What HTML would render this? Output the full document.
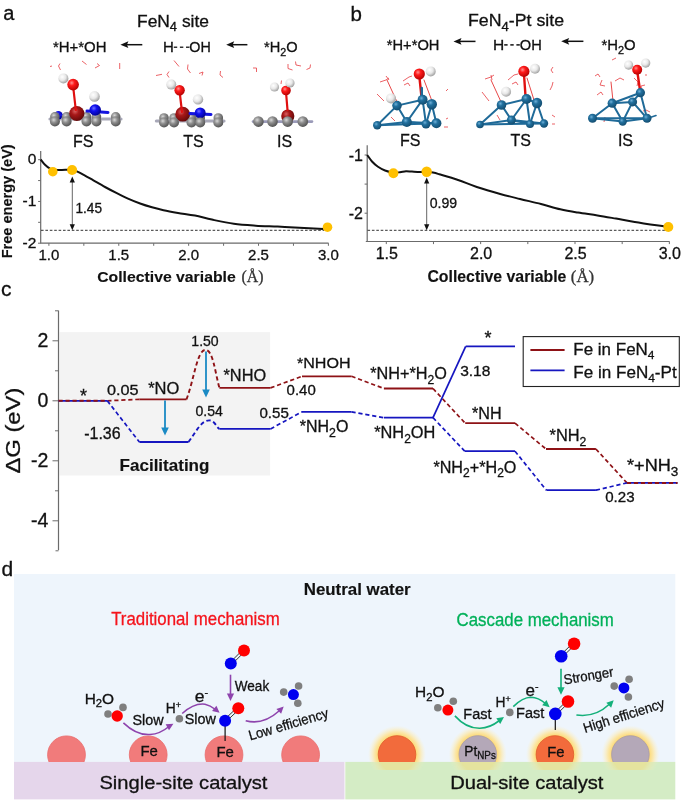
<!DOCTYPE html>
<html><head><meta charset="utf-8"><title>Figure</title>
<style>html,body{margin:0;padding:0;background:#fff;}svg{display:block;}</style>
</head><body>
<svg width="685" height="803" viewBox="0 0 685 803" font-family="'Liberation Sans', Arial, Helvetica, sans-serif">
<rect width="685" height="803" fill="#fff"/>
<!-- panel a -->
<text x="3.2" y="20" font-size="20" fill="#111" stroke="#111" stroke-width="0.3">a</text>
<text x="137" y="26.5" font-size="16.2" textLength="72" lengthAdjust="spacingAndGlyphs" fill="#111" stroke="#111" stroke-width="0.3">FeN<tspan font-size="12" dy="4.8">4</tspan><tspan dy="-4.8"> site</tspan></text>
<text x="52.9" y="52.4" font-size="15" textLength="53.6" lengthAdjust="spacingAndGlyphs" fill="#111" stroke="#111" stroke-width="0.3">*H+*OH</text>
<text x="163" y="52.4" font-size="15" fill="#111" stroke="#111" stroke-width="0.3">H</text>
<text x="189.3" y="52.4" font-size="15" textLength="21.5" lengthAdjust="spacingAndGlyphs" fill="#111" stroke="#111" stroke-width="0.3">OH</text>
<line x1="173.8" y1="47.2" x2="189.5" y2="47.2" stroke="#333" stroke-width="1.6" stroke-dasharray="3.4 2.7"/>
<text x="264" y="52.4" font-size="15" textLength="33.6" lengthAdjust="spacingAndGlyphs" fill="#111" stroke="#111" stroke-width="0.3">*H<tspan font-size="11" dy="3.6">2</tspan><tspan dy="-3.6">O</tspan></text>
<line x1="124.4" y1="44.7" x2="142.3" y2="44.7" stroke="#111" stroke-width="1.5"/>
<path d="M120.4,44.7 L128.4,41.300000000000004 L126.9,44.7 L128.4,48.1 Z" fill="#111"/>
<line x1="230.2" y1="44.7" x2="247.4" y2="44.7" stroke="#111" stroke-width="1.5"/>
<path d="M226.2,44.7 L234.2,41.300000000000004 L232.7,44.7 L234.2,48.1 Z" fill="#111"/>
<text x="73" y="146.5" font-size="16" fill="#111" stroke="#111" stroke-width="0.3">FS</text>
<text x="183.3" y="146.5" font-size="16" fill="#111" stroke="#111" stroke-width="0.3">TS</text>
<text x="277" y="146.5" font-size="16" fill="#111" stroke="#111" stroke-width="0.3">IS</text>
<text x="350.5" y="20.5" font-size="20.5" fill="#111" stroke="#111" stroke-width="0.3">b</text>
<text x="468" y="26.2" font-size="16.2" textLength="96" lengthAdjust="spacingAndGlyphs" fill="#111" stroke="#111" stroke-width="0.3">FeN<tspan font-size="12" dy="4.8">4</tspan><tspan dy="-4.8">-Pt site</tspan></text>
<text x="386.8" y="50.3" font-size="15" textLength="52.6" lengthAdjust="spacingAndGlyphs" fill="#111" stroke="#111" stroke-width="0.3">*H+*OH</text>
<text x="493" y="50.2" font-size="15.5" fill="#111" stroke="#111" stroke-width="0.3">H</text>
<text x="519.8" y="50.2" font-size="15.5" textLength="22" lengthAdjust="spacingAndGlyphs" fill="#111" stroke="#111" stroke-width="0.3">OH</text>
<line x1="504.2" y1="44.9" x2="520" y2="44.9" stroke="#333" stroke-width="1.6" stroke-dasharray="3.4 2.7"/>
<text x="601.4" y="50.2" font-size="15" textLength="34.2" lengthAdjust="spacingAndGlyphs" fill="#111" stroke="#111" stroke-width="0.3">*H<tspan font-size="11" dy="3.6">2</tspan><tspan dy="-3.6">O</tspan></text>
<line x1="457.5" y1="41.4" x2="475.5" y2="41.4" stroke="#111" stroke-width="1.5"/>
<path d="M453.5,41.4 L461.5,38.0 L460.0,41.4 L461.5,44.8 Z" fill="#111"/>
<line x1="565.2" y1="41.3" x2="583.4" y2="41.3" stroke="#111" stroke-width="1.5"/>
<path d="M561.2,41.3 L569.2,37.9 L567.7,41.3 L569.2,44.699999999999996 Z" fill="#111"/>
<text x="400" y="146.4" font-size="16" fill="#111" stroke="#111" stroke-width="0.3">FS</text>
<text x="510.6" y="146.4" font-size="16" fill="#111" stroke="#111" stroke-width="0.3">TS</text>
<text x="617.9" y="146.4" font-size="16" fill="#111" stroke="#111" stroke-width="0.3">IS</text>
<path d="M40.7,151 L40.7,243.2 L328.6,243.2" fill="none" stroke="#6b6b6b" stroke-width="1.2"/>
<line x1="38.1" y1="159.7" x2="40.7" y2="159.7" stroke="#6b6b6b" stroke-width="1"/>
<line x1="38.1" y1="201.45" x2="40.7" y2="201.45" stroke="#6b6b6b" stroke-width="1"/>
<line x1="38.1" y1="180.575" x2="40.7" y2="180.575" stroke="#6b6b6b" stroke-width="1"/>
<line x1="38.1" y1="222.325" x2="40.7" y2="222.325" stroke="#6b6b6b" stroke-width="1"/>
<line x1="48.9" y1="243.2" x2="48.9" y2="245.79999999999998" stroke="#6b6b6b" stroke-width="1"/>
<line x1="118.775" y1="243.2" x2="118.775" y2="245.79999999999998" stroke="#6b6b6b" stroke-width="1"/>
<line x1="188.65" y1="243.2" x2="188.65" y2="245.79999999999998" stroke="#6b6b6b" stroke-width="1"/>
<line x1="258.525" y1="243.2" x2="258.525" y2="245.79999999999998" stroke="#6b6b6b" stroke-width="1"/>
<line x1="328.4" y1="243.2" x2="328.4" y2="245.79999999999998" stroke="#6b6b6b" stroke-width="1"/>
<line x1="83.8375" y1="243.2" x2="83.8375" y2="245.79999999999998" stroke="#6b6b6b" stroke-width="1"/>
<line x1="153.7125" y1="243.2" x2="153.7125" y2="245.79999999999998" stroke="#6b6b6b" stroke-width="1"/>
<line x1="223.5875" y1="243.2" x2="223.5875" y2="245.79999999999998" stroke="#6b6b6b" stroke-width="1"/>
<line x1="293.4625" y1="243.2" x2="293.4625" y2="245.79999999999998" stroke="#6b6b6b" stroke-width="1"/>
<line x1="38" y1="243.2" x2="40.7" y2="243.2" stroke="#6b6b6b" stroke-width="1"/>
<text x="36.4" y="164.0" font-size="15.5" text-anchor="end" fill="#111" stroke="#111" stroke-width="0.3">0</text>
<text x="36.4" y="205.75" font-size="15.5" text-anchor="end" fill="#111" stroke="#111" stroke-width="0.3">-1</text>
<text x="36.4" y="247.5" font-size="15.5" text-anchor="end" fill="#111" stroke="#111" stroke-width="0.3">-2</text>
<text x="48.9" y="259.6" font-size="15" text-anchor="middle" fill="#111" stroke="#111" stroke-width="0.3">1.0</text>
<text x="118.775" y="259.6" font-size="15" text-anchor="middle" fill="#111" stroke="#111" stroke-width="0.3">1.5</text>
<text x="188.65" y="259.6" font-size="15" text-anchor="middle" fill="#111" stroke="#111" stroke-width="0.3">2.0</text>
<text x="258.525" y="259.6" font-size="15" text-anchor="middle" fill="#111" stroke="#111" stroke-width="0.3">2.5</text>
<text x="328.4" y="259.6" font-size="15" text-anchor="middle" fill="#111" stroke="#111" stroke-width="0.3">3.0</text>
<text x="0" y="0" font-size="14.6" font-weight="bold" fill="#111" stroke="#111" stroke-width="0.15" transform="translate(12.3,258.3) rotate(-90)" textLength="114" lengthAdjust="spacingAndGlyphs">Free energy (eV)</text>
<text x="97.2" y="281.6" font-size="15.5" font-weight="bold" textLength="138.5" lengthAdjust="spacingAndGlyphs" fill="#111" stroke="#111" stroke-width="0.15">Collective variable</text>
<text x="241.6" y="281.6" font-size="16" textLength="22" lengthAdjust="spacingAndGlyphs" font-family="'Liberation Serif', serif" fill="#333" stroke="#333" stroke-width="0.3">(Å)</text>
<line x1="41" y1="230.3" x2="324" y2="230.3" stroke="#333" stroke-width="1" stroke-dasharray="2.6 1.8"/>
<path d="M40.7,159.5 C41.42,160.38 43.45,163.28 45.00,164.80 C46.55,166.32 48.17,167.73 50.00,168.60 C51.83,169.47 54.00,169.77 56.00,170.00 C58.00,170.23 60.00,170.05 62.00,170.00 C64.00,169.95 66.33,169.75 68.00,169.70 C69.67,169.65 70.43,169.38 72.00,169.70 C73.57,170.02 75.23,170.62 77.40,171.60 C79.57,172.58 82.33,174.13 85.00,175.60 C87.67,177.07 90.07,178.50 93.40,180.40 C96.73,182.30 101.10,184.87 105.00,187.00 C108.90,189.13 112.97,191.27 116.80,193.20 C120.63,195.13 124.12,196.88 128.00,198.60 C131.88,200.32 136.10,202.05 140.10,203.50 C144.10,204.95 148.10,206.18 152.00,207.30 C155.90,208.42 159.17,209.27 163.50,210.20 C167.83,211.13 172.75,212.00 178.00,212.90 C183.25,213.80 189.35,214.48 195.00,215.60 C200.65,216.72 205.43,218.23 211.90,219.60 C218.37,220.97 226.50,222.78 233.80,223.80 C241.10,224.82 248.40,225.23 255.70,225.70 C263.00,226.17 270.30,226.27 277.60,226.60 C284.90,226.93 291.83,227.30 299.50,227.70 C307.17,228.10 319.58,228.78 323.60,229.00" fill="none" stroke="#111" stroke-width="2"/>
<line x1="72.3" y1="180.5" x2="72.3" y2="226.3" stroke="#555" stroke-width="0.9"/>
<path d="M72.3,176.5 L69.7,182.5 L74.89999999999999,182.5 Z" fill="#111"/>
<path d="M72.3,230.3 L69.7,224.3 L74.89999999999999,224.3 Z" fill="#111"/>
<text x="75.4" y="212.6" font-size="14.6" textLength="26.6" lengthAdjust="spacingAndGlyphs" fill="#111" stroke="#111" stroke-width="0.3">1.45</text>
<circle cx="52.8" cy="171.7" r="4.8" fill="#ffc000"/>
<circle cx="72.1" cy="170" r="5" fill="#ffc000"/>
<circle cx="327.5" cy="227.2" r="4.8" fill="#ffc000"/>
<path d="M367.2,145.2 L367.2,241.5 L669.6,241.5" fill="none" stroke="#6b6b6b" stroke-width="1.2"/>
<line x1="364.59999999999997" y1="155.0" x2="367.2" y2="155.0" stroke="#6b6b6b" stroke-width="1"/>
<line x1="364.59999999999997" y1="213.2" x2="367.2" y2="213.2" stroke="#6b6b6b" stroke-width="1"/>
<line x1="364.59999999999997" y1="184.1" x2="367.2" y2="184.1" stroke="#6b6b6b" stroke-width="1"/>
<line x1="386.3" y1="241.5" x2="386.3" y2="244.1" stroke="#6b6b6b" stroke-width="1"/>
<line x1="480.65" y1="241.5" x2="480.65" y2="244.1" stroke="#6b6b6b" stroke-width="1"/>
<line x1="575.0" y1="241.5" x2="575.0" y2="244.1" stroke="#6b6b6b" stroke-width="1"/>
<line x1="669.3499999999999" y1="241.5" x2="669.3499999999999" y2="244.1" stroke="#6b6b6b" stroke-width="1"/>
<line x1="433.475" y1="241.5" x2="433.475" y2="244.1" stroke="#6b6b6b" stroke-width="1"/>
<line x1="527.825" y1="241.5" x2="527.825" y2="244.1" stroke="#6b6b6b" stroke-width="1"/>
<line x1="622.175" y1="241.5" x2="622.175" y2="244.1" stroke="#6b6b6b" stroke-width="1"/>
<line x1="365.8" y1="241.5" x2="367.2" y2="241.5" stroke="#6b6b6b" stroke-width="1"/>
<text x="363" y="160.6" font-size="16" text-anchor="end" fill="#111" stroke="#111" stroke-width="0.3">-1</text>
<text x="363" y="218.79999999999998" font-size="16" text-anchor="end" fill="#111" stroke="#111" stroke-width="0.3">-2</text>
<text x="386.8" y="258.8" font-size="16" text-anchor="middle" fill="#111" stroke="#111" stroke-width="0.3">1.5</text>
<text x="481.15" y="258.8" font-size="16" text-anchor="middle" fill="#111" stroke="#111" stroke-width="0.3">2.0</text>
<text x="575.5" y="258.8" font-size="16" text-anchor="middle" fill="#111" stroke="#111" stroke-width="0.3">2.5</text>
<text x="669.8499999999999" y="258.8" font-size="16" text-anchor="middle" fill="#111" stroke="#111" stroke-width="0.3">3.0</text>
<text x="427.4" y="281.8" font-size="15.7" font-weight="bold" textLength="139" lengthAdjust="spacingAndGlyphs" fill="#111" stroke="#111" stroke-width="0.15">Collective variable</text>
<text x="570.8" y="281.8" font-size="16" textLength="23.3" lengthAdjust="spacingAndGlyphs" font-family="'Liberation Serif', serif" fill="#333" stroke="#333" stroke-width="0.3">(Å)</text>
<line x1="367.5" y1="230.3" x2="665" y2="230.3" stroke="#333" stroke-width="1" stroke-dasharray="2.6 1.8"/>
<path d="M367.2,155 C368.00,156.08 370.20,159.53 372.00,161.50 C373.80,163.47 375.83,165.30 378.00,166.80 C380.17,168.30 382.43,169.53 385.00,170.50 C387.57,171.47 390.90,172.32 393.40,172.60 C395.90,172.88 397.90,172.43 400.00,172.20 C402.10,171.97 404.00,171.30 406.00,171.20 C408.00,171.10 409.67,171.47 412.00,171.60 C414.33,171.73 417.55,171.98 420.00,172.00 C422.45,172.02 424.53,171.60 426.70,171.70 C428.87,171.80 430.88,172.17 433.00,172.60 C435.12,173.03 435.22,173.07 439.40,174.30 C443.58,175.53 451.87,177.88 458.10,180.00 C464.33,182.12 469.78,184.67 476.80,187.00 C483.82,189.33 493.00,192.00 500.20,194.00 C507.40,196.00 513.20,197.33 520.00,199.00 C526.80,200.67 534.28,202.28 541.00,204.00 C547.72,205.72 554.13,207.87 560.30,209.30 C566.47,210.73 571.80,211.58 578.00,212.60 C584.20,213.62 591.17,214.40 597.50,215.40 C603.83,216.40 609.78,217.50 616.00,218.60 C622.22,219.70 626.72,220.68 634.80,222.00 C642.88,223.32 659.55,225.75 664.50,226.50" fill="none" stroke="#111" stroke-width="2"/>
<line x1="426.7" y1="181.5" x2="426.7" y2="226.3" stroke="#555" stroke-width="0.9"/>
<path d="M426.7,177.5 L424.09999999999997,183.5 L429.3,183.5 Z" fill="#111"/>
<path d="M426.7,230.3 L424.09999999999997,224.3 L429.3,224.3 Z" fill="#111"/>
<text x="429.8" y="208.4" font-size="15" textLength="27.4" lengthAdjust="spacingAndGlyphs" fill="#111" stroke="#111" stroke-width="0.3">0.99</text>
<circle cx="393.4" cy="173.2" r="5" fill="#ffc000"/>
<circle cx="426.7" cy="171.7" r="5.2" fill="#ffc000"/>
<circle cx="668.3" cy="227" r="5" fill="#ffc000"/>
<!-- panel c -->
<text x="1" y="296.3" font-size="21" fill="#111" stroke="#111" stroke-width="0.3">c</text>
<rect x="59.5" y="332.1" width="210.6" height="143.4" fill="#f3f3f3"/>
<line x1="58.5" y1="310.6" x2="58.5" y2="550.2" stroke="#6b6b6b" stroke-width="1.2"/>
<line x1="55.0" y1="310.8" x2="58.5" y2="310.8" stroke="#6b6b6b" stroke-width="1"/>
<line x1="52.5" y1="340.8" x2="58.5" y2="340.8" stroke="#6b6b6b" stroke-width="1"/>
<line x1="55.0" y1="370.8" x2="58.5" y2="370.8" stroke="#6b6b6b" stroke-width="1"/>
<line x1="52.5" y1="400.8" x2="58.5" y2="400.8" stroke="#6b6b6b" stroke-width="1"/>
<line x1="55.0" y1="430.8" x2="58.5" y2="430.8" stroke="#6b6b6b" stroke-width="1"/>
<line x1="52.5" y1="460.8" x2="58.5" y2="460.8" stroke="#6b6b6b" stroke-width="1"/>
<line x1="55.0" y1="490.8" x2="58.5" y2="490.8" stroke="#6b6b6b" stroke-width="1"/>
<line x1="52.5" y1="520.8" x2="58.5" y2="520.8" stroke="#6b6b6b" stroke-width="1"/>
<line x1="55.5" y1="550.8" x2="58.5" y2="550.8" stroke="#6b6b6b" stroke-width="1"/>
<text x="48.4" y="346.5" font-size="19.5" text-anchor="end" fill="#111" stroke="#111" stroke-width="0.3">2</text>
<text x="48.4" y="406.5" font-size="19.5" text-anchor="end" fill="#111" stroke="#111" stroke-width="0.3">0</text>
<text x="48.4" y="466.5" font-size="19.5" text-anchor="end" fill="#111" stroke="#111" stroke-width="0.3">-2</text>
<text x="48.4" y="526.5" font-size="19.5" text-anchor="end" fill="#111" stroke="#111" stroke-width="0.3">-4</text>
<text x="0" y="0" font-size="21" fill="#111" stroke="#111" stroke-width="0.3" transform="translate(19.8,473.6) rotate(-90)" textLength="86" lengthAdjust="spacingAndGlyphs">ΔG (eV)</text>
<line x1="107.3" y1="400.8" x2="139.4" y2="399.3" stroke="#8e1216" stroke-width="1.7" stroke-dasharray="4.2 2.8"/>
<line x1="139.4" y1="399.3" x2="186.5" y2="399.3" stroke="#8e1216" stroke-width="1.8"/>
<path d="M186.5,399.3 C194,380 197,350 205.5,349.9 C213,350 215,372 219.4,387.9" fill="none" stroke="#8e1216" stroke-width="1.9" stroke-dasharray="4.2 2.8"/>
<line x1="219.4" y1="387.9" x2="270.5" y2="387.9" stroke="#8e1216" stroke-width="1.8"/>
<line x1="270.5" y1="387.9" x2="302" y2="376.3" stroke="#8e1216" stroke-width="1.7" stroke-dasharray="4.2 2.8"/>
<line x1="302" y1="376.3" x2="351.5" y2="376.3" stroke="#8e1216" stroke-width="1.8"/>
<line x1="351.5" y1="376.3" x2="383.9" y2="388.5" stroke="#8e1216" stroke-width="1.7" stroke-dasharray="4.2 2.8"/>
<line x1="383.9" y1="388.5" x2="433" y2="388.5" stroke="#8e1216" stroke-width="1.8"/>
<line x1="433" y1="388.5" x2="465.2" y2="423.2" stroke="#8e1216" stroke-width="1.7" stroke-dasharray="4.2 2.8"/>
<line x1="465.2" y1="423.2" x2="515" y2="423.2" stroke="#8e1216" stroke-width="1.8"/>
<line x1="515" y1="423.2" x2="546" y2="449" stroke="#8e1216" stroke-width="1.7" stroke-dasharray="4.2 2.8"/>
<line x1="546" y1="449" x2="595.9" y2="449" stroke="#8e1216" stroke-width="1.8"/>
<line x1="595.9" y1="449" x2="626.9" y2="482.9" stroke="#8e1216" stroke-width="1.7" stroke-dasharray="4.2 2.8"/>
<line x1="58.5" y1="400.8" x2="107.3" y2="400.8" stroke="#1616c0" stroke-width="1.8"/>
<line x1="58.5" y1="400.8" x2="107.3" y2="400.8" stroke="#8e1216" stroke-width="2" stroke-dasharray="4.2 2.8"/>
<line x1="107.3" y1="400.8" x2="139.4" y2="442" stroke="#1616c0" stroke-width="1.7" stroke-dasharray="4.2 2.8"/>
<line x1="139.4" y1="442" x2="188.5" y2="442" stroke="#1616c0" stroke-width="1.8"/>
<path d="M188.5,442 C196,432 201,420.4 209.2,420.4 C215,420.4 216,427 219.4,428.9" fill="none" stroke="#1616c0" stroke-width="1.9" stroke-dasharray="4.2 2.8"/>
<line x1="219.4" y1="428.9" x2="270.5" y2="428.9" stroke="#1616c0" stroke-width="1.8"/>
<line x1="270.5" y1="428.9" x2="302" y2="411.8" stroke="#1616c0" stroke-width="1.7" stroke-dasharray="4.2 2.8"/>
<line x1="302" y1="411.8" x2="351.5" y2="411.8" stroke="#1616c0" stroke-width="1.8"/>
<line x1="351.5" y1="411.8" x2="383.9" y2="417.7" stroke="#1616c0" stroke-width="1.7" stroke-dasharray="4.2 2.8"/>
<line x1="383.9" y1="417.7" x2="433" y2="417.7" stroke="#1616c0" stroke-width="1.8"/>
<line x1="433" y1="417.7" x2="465.7" y2="346.4" stroke="#1616c0" stroke-width="1.7"/>
<line x1="465.7" y1="346.4" x2="515" y2="346.4" stroke="#1616c0" stroke-width="1.8"/>
<line x1="433" y1="417.7" x2="464.7" y2="451.2" stroke="#1616c0" stroke-width="1.7" stroke-dasharray="4.2 2.8"/>
<line x1="464.7" y1="451.2" x2="515" y2="451.2" stroke="#1616c0" stroke-width="1.8"/>
<line x1="515" y1="451.2" x2="546.4" y2="490.2" stroke="#1616c0" stroke-width="1.7" stroke-dasharray="4.2 2.8"/>
<line x1="546.4" y1="490.2" x2="595.9" y2="490.2" stroke="#1616c0" stroke-width="1.8"/>
<line x1="595.9" y1="490.2" x2="626.9" y2="482.9" stroke="#1616c0" stroke-width="1.7" stroke-dasharray="4.2 2.8"/>
<line x1="626.9" y1="482.9" x2="677.5" y2="482.9" stroke="#1616c0" stroke-width="1.8"/>
<line x1="626.9" y1="482.9" x2="677.5" y2="482.9" stroke="#8e1216" stroke-width="2" stroke-dasharray="4.2 2.8"/>
<line x1="165" y1="400.5" x2="165" y2="429.5" stroke="#1a8ac4" stroke-width="1.8"/>
<path d="M165,435.5 L161.2,427.5 L168.8,427.5 Z" fill="#1a8ac4"/>
<line x1="206" y1="351.5" x2="206" y2="391.4" stroke="#1a8ac4" stroke-width="1.8"/>
<path d="M206,397.4 L202.2,389.4 L209.8,389.4 Z" fill="#1a8ac4"/>
<text x="80" y="402" font-size="18" fill="#111" stroke="#111" stroke-width="0.3">*</text>
<text x="107" y="395.2" font-size="14.8" textLength="31.6" lengthAdjust="spacingAndGlyphs" fill="#111" stroke="#111" stroke-width="0.3">0.05</text>
<text x="148.2" y="394" font-size="16.2" textLength="31.2" lengthAdjust="spacingAndGlyphs" fill="#111" stroke="#111" stroke-width="0.3">*NO</text>
<text x="191.3" y="346" font-size="14.6" textLength="27.4" lengthAdjust="spacingAndGlyphs" fill="#111" stroke="#111" stroke-width="0.3">1.50</text>
<text x="223.5" y="381.2" font-size="16" textLength="42.6" lengthAdjust="spacingAndGlyphs" fill="#111" stroke="#111" stroke-width="0.3">*NHO</text>
<text x="195.4" y="415.6" font-size="14.4" textLength="27.4" lengthAdjust="spacingAndGlyphs" fill="#111" stroke="#111" stroke-width="0.3">0.54</text>
<text x="84.2" y="438.7" font-size="16" textLength="36.4" lengthAdjust="spacingAndGlyphs" fill="#111" stroke="#111" stroke-width="0.3">-1.36</text>
<text x="119.6" y="470.8" font-size="16.4" font-weight="bold" textLength="89.8" lengthAdjust="spacingAndGlyphs" fill="#111" stroke="#111" stroke-width="0.15">Facilitating</text>
<text x="259.4" y="418" font-size="14.4" textLength="29.4" lengthAdjust="spacingAndGlyphs" fill="#111" stroke="#111" stroke-width="0.3">0.55</text>
<text x="297" y="367.8" font-size="15.2" textLength="53.6" lengthAdjust="spacingAndGlyphs" fill="#111" stroke="#111" stroke-width="0.3">*NHOH</text>
<text x="286.6" y="395.3" font-size="14.8" textLength="29.2" lengthAdjust="spacingAndGlyphs" fill="#111" stroke="#111" stroke-width="0.3">0.40</text>
<text x="299.8" y="431.9" font-size="15.6" textLength="48.6" lengthAdjust="spacingAndGlyphs" fill="#111" stroke="#111" stroke-width="0.3">*NH<tspan font-size="12" dy="4.6">2</tspan><tspan dy="-4.6">O</tspan></text>
<text x="370.2" y="379.2" font-size="16.8" textLength="76.6" lengthAdjust="spacingAndGlyphs" fill="#111" stroke="#111" stroke-width="0.3">*NH+*H<tspan font-size="12.5" dy="4.8">2</tspan><tspan dy="-4.8">O</tspan></text>
<text x="374.2" y="437.8" font-size="17" textLength="61.2" lengthAdjust="spacingAndGlyphs" fill="#111" stroke="#111" stroke-width="0.3">*NH<tspan font-size="12.5" dy="4.8">2</tspan><tspan dy="-4.8">OH</tspan></text>
<text x="460.2" y="376.4" font-size="14.4" textLength="30.2" lengthAdjust="spacingAndGlyphs" fill="#111" stroke="#111" stroke-width="0.3">3.18</text>
<text x="484.6" y="344.2" font-size="18" fill="#111" stroke="#111" stroke-width="0.3">*</text>
<text x="472" y="418.5" font-size="16.2" textLength="29.6" lengthAdjust="spacingAndGlyphs" fill="#111" stroke="#111" stroke-width="0.3">*NH</text>
<text x="549.6" y="440.7" font-size="16.8" textLength="36.8" lengthAdjust="spacingAndGlyphs" fill="#111" stroke="#111" stroke-width="0.3">*NH<tspan font-size="12.5" dy="4.8">2</tspan></text>
<text x="433.4" y="472.6" font-size="16.8" textLength="83" lengthAdjust="spacingAndGlyphs" fill="#111" stroke="#111" stroke-width="0.3">*NH<tspan font-size="12.5" dy="4.8">2</tspan><tspan dy="-4.8">+*H</tspan><tspan font-size="12.5" dy="4.8">2</tspan><tspan dy="-4.8">O</tspan></text>
<text x="627" y="470.8" font-size="16.8" textLength="51.4" lengthAdjust="spacingAndGlyphs" fill="#111" stroke="#111" stroke-width="0.3">*+NH<tspan font-size="12.5" dy="5.2">3</tspan></text>
<text x="605.2" y="502.1" font-size="15" textLength="29.4" lengthAdjust="spacingAndGlyphs" fill="#111" stroke="#111" stroke-width="0.3">0.23</text>
<rect x="523.2" y="336.6" width="156.1" height="49.9" fill="#fff" stroke="#222" stroke-width="1.1"/>
<line x1="530.4" y1="350" x2="564.6" y2="350" stroke="#8e1216" stroke-width="1.8"/>
<line x1="530.4" y1="370.4" x2="564.6" y2="370.4" stroke="#1616c0" stroke-width="1.8"/>
<text x="573.3" y="354.7" font-size="16.4" textLength="81.2" lengthAdjust="spacingAndGlyphs" fill="#111" stroke="#111" stroke-width="0.3">Fe in FeN<tspan font-size="11.5" dy="4.2">4</tspan></text>
<text x="573.3" y="378" font-size="16.4" textLength="103.4" lengthAdjust="spacingAndGlyphs" fill="#111" stroke="#111" stroke-width="0.3">Fe in FeN<tspan font-size="11.5" dy="4.2">4</tspan><tspan dy="-4.2">-Pt</tspan></text>
<!-- panel d -->
<text x="1.5" y="575.5" font-size="21" fill="#111" stroke="#111" stroke-width="0.3">d</text>
<rect x="14" y="574" width="661.3" height="188" fill="#eef5fc"/>
<rect x="14" y="761.9" width="330.5" height="37.5" fill="#e5d6eb"/>
<rect x="345.3" y="761.9" width="330" height="37.5" fill="#d4ecc5"/>
<text x="303.7" y="594.5" font-size="16" font-weight="bold" textLength="107" lengthAdjust="spacingAndGlyphs" fill="#111" stroke="#111" stroke-width="0.15">Neutral water</text>
<text x="111.2" y="625.4" font-size="18.2" textLength="168.6" lengthAdjust="spacingAndGlyphs" fill="#f5141c" stroke="#f5141c" stroke-width="0.3">Traditional mechanism</text>
<text x="456.6" y="625.5" font-size="18.2" textLength="157.2" lengthAdjust="spacingAndGlyphs" fill="#00b159" stroke="#00b159" stroke-width="0.3">Cascade mechanism</text>
<defs><clipPath id="sub"><rect x="0" y="0" width="685" height="761.9"/></clipPath><radialGradient id="glow"><stop offset="0.62" stop-color="#ffd45e" stop-opacity="0.95"/><stop offset="0.78" stop-color="#ffe391" stop-opacity="0.75"/><stop offset="1" stop-color="#fff0c0" stop-opacity="0"/></radialGradient></defs>
<clipPath id="sub2"><rect x="0" y="761.9" width="685" height="8"/></clipPath>
<g clip-path="url(#sub2)" opacity="0.4">
<circle cx="397" cy="754.5" r="29" fill="url(#glow)"/>
<circle cx="477.8" cy="754.5" r="29" fill="url(#glow)"/>
<circle cx="554.9" cy="754.5" r="29" fill="url(#glow)"/>
<circle cx="630.4" cy="754.5" r="29" fill="url(#glow)"/>
</g>
<g clip-path="url(#sub)">
<circle cx="397" cy="754.5" r="29" fill="url(#glow)"/>
<circle cx="477.8" cy="754.5" r="29" fill="url(#glow)"/>
<circle cx="554.9" cy="754.5" r="29" fill="url(#glow)"/>
<circle cx="630.4" cy="754.5" r="29" fill="url(#glow)"/>
</g>
<g clip-path="url(#sub)">
<circle cx="66.5" cy="754.8" r="18.9" fill="#f17b7b" stroke="#ea6c6c" stroke-width="0.8"/>
<circle cx="148.2" cy="754.8" r="18.9" fill="#f17b7b" stroke="#ea6c6c" stroke-width="0.8"/>
<circle cx="224" cy="754.8" r="18.9" fill="#f17b7b" stroke="#ea6c6c" stroke-width="0.8"/>
<circle cx="300.6" cy="754.8" r="18.9" fill="#f17b7b" stroke="#ea6c6c" stroke-width="0.8"/>
<circle cx="397" cy="754.5" r="18.8" fill="#f26b3c" stroke="#e05a2c" stroke-width="0.8"/>
<circle cx="477.8" cy="754.5" r="18.8" fill="#b4a8b8" stroke="#a89aa8" stroke-width="0.8"/>
<circle cx="554.9" cy="754.5" r="18.8" fill="#f26b3c" stroke="#e05a2c" stroke-width="0.8"/>
<circle cx="630.4" cy="754.5" r="18.8" fill="#b4a8b8" stroke="#a89aa8" stroke-width="0.8"/>
</g>
<text x="140.4" y="756.3" font-size="14" textLength="17.4" lengthAdjust="spacingAndGlyphs" fill="#111" stroke="#111" stroke-width="0.3">Fe</text>
<text x="216.4" y="757.3" font-size="14" textLength="17.4" lengthAdjust="spacingAndGlyphs" fill="#111" stroke="#111" stroke-width="0.3">Fe</text>
<text x="547.3" y="756.9" font-size="14" textLength="17.2" lengthAdjust="spacingAndGlyphs" fill="#111" stroke="#111" stroke-width="0.3">Fe</text>
<text x="464.3" y="755.5" font-size="14" textLength="31.5" lengthAdjust="spacingAndGlyphs" fill="#111" stroke="#111" stroke-width="0.3">Pt<tspan font-size="10" dy="3">NPs</tspan></text>
<text x="99.4" y="789.1" font-size="19" textLength="168" lengthAdjust="spacingAndGlyphs" fill="#111" stroke="#111" stroke-width="0.3">Single-site catalyst</text>
<text x="450.2" y="788.9" font-size="18.3" textLength="153.2" lengthAdjust="spacingAndGlyphs" fill="#111" stroke="#111" stroke-width="0.3">Dual-site catalyst</text>
<circle cx="108" cy="714" r="3.8" fill="#7f7f7f"/>
<circle cx="123" cy="707.4" r="3.8" fill="#7f7f7f"/>
<circle cx="117.2" cy="716" r="5.7" fill="#ff0000"/>
<text x="84.7" y="703.8" font-size="14.4" textLength="29.4" lengthAdjust="spacingAndGlyphs" fill="#111" stroke="#111" stroke-width="0.3">H<tspan font-size="10.5" dy="3.5">2</tspan><tspan dy="-3.5">O</tspan></text>
<text x="132.4" y="725.4" font-size="14" textLength="31.2" lengthAdjust="spacingAndGlyphs" fill="#111" stroke="#111" stroke-width="0.3">Slow</text>
<path d="M123.4,722.8 C133,732 143,735 150,734.5 C160,734 166,729 169,726.5" fill="none" stroke="#8e44ad" stroke-width="1.6"/>
<path d="M173.40,723.80 L169.04,730.24 L165.64,724.36 Z" fill="#8e44ad"/>
<text x="165.7" y="713.2" font-size="14" textLength="15.2" lengthAdjust="spacingAndGlyphs" fill="#111" stroke="#111" stroke-width="0.3">H<tspan font-size="9" dy="-5.5">+</tspan></text>
<circle cx="179.4" cy="718.8" r="3.8" fill="#7f7f7f"/>
<path d="M182.2,713.5 C190,706.5 197,703.2 205,704.2 C210,705.2 213,707.5 215.5,709.5" fill="none" stroke="#8e44ad" stroke-width="1.6"/>
<path d="M219.60,712.80 L212.05,710.91 L216.42,705.70 Z" fill="#8e44ad"/>
<text x="194.8" y="701.6" font-size="16.2" textLength="13.4" lengthAdjust="spacingAndGlyphs" fill="#111" stroke="#111" stroke-width="0.3">e<tspan font-size="10" dy="-6">-</tspan></text>
<text x="184.7" y="724.4" font-size="14" textLength="31.2" lengthAdjust="spacingAndGlyphs" fill="#111" stroke="#111" stroke-width="0.3">Slow</text>
<line x1="231.72" y1="664.52" x2="244.92" y2="651.32" stroke="#333" stroke-width="1"/>
<line x1="229.88" y1="662.68" x2="243.08" y2="649.48" stroke="#333" stroke-width="1"/>
<circle cx="244" cy="650.4" r="6" fill="#ff0000"/>
<circle cx="230.8" cy="663.6" r="6" fill="#0000f0"/>
<line x1="230.5" y1="674.7" x2="230.5" y2="694" stroke="#8e44ad" stroke-width="1.6"/>
<path d="M230.5,701 L226.9,693.5 L234.1,693.5 Z" fill="#8e44ad"/>
<text x="234.8" y="690.9" font-size="14" textLength="34.4" lengthAdjust="spacingAndGlyphs" fill="#111" stroke="#111" stroke-width="0.3">Weak</text>
<line x1="225.1" y1="722" x2="225.1" y2="741" stroke="#111" stroke-width="1.2"/>
<line x1="225.99" y1="721.65" x2="239.19" y2="709.25" stroke="#333" stroke-width="1"/>
<line x1="224.21" y1="719.75" x2="237.41" y2="707.35" stroke="#333" stroke-width="1"/>
<circle cx="238.3" cy="708.3" r="6" fill="#ff0000"/>
<circle cx="225.1" cy="720.7" r="6" fill="#0000f0"/>
<circle cx="298.6" cy="686" r="3.8" fill="#7f7f7f"/>
<circle cx="283.7" cy="692.1" r="3.8" fill="#7f7f7f"/>
<circle cx="297.8" cy="703.3" r="3.8" fill="#7f7f7f"/>
<circle cx="293.4" cy="694.6" r="5.5" fill="#0000f0"/>
<path d="M245.7,720.7 C258,724 268,721 279,711" fill="none" stroke="#8e44ad" stroke-width="1.6"/>
<path d="M283.70,706.50 L281.15,713.85 L276.35,709.05 Z" fill="#8e44ad"/>
<text x="0" y="0" font-size="14" fill="#111" stroke="#111" stroke-width="0.3" transform="translate(250.2,740.6) rotate(-16.5)" textLength="82.5" lengthAdjust="spacingAndGlyphs">Low efficiency</text>
<circle cx="437.8" cy="707.7" r="3.8" fill="#7f7f7f"/>
<circle cx="453.3" cy="701.2" r="3.8" fill="#7f7f7f"/>
<circle cx="447.9" cy="710.1" r="5.5" fill="#ff0000"/>
<text x="415" y="697.2" font-size="14.4" textLength="29.4" lengthAdjust="spacingAndGlyphs" fill="#111" stroke="#111" stroke-width="0.3">H<tspan font-size="10.5" dy="3.5">2</tspan><tspan dy="-3.5">O</tspan></text>
<text x="463.3" y="719" font-size="14" textLength="28.2" lengthAdjust="spacingAndGlyphs" fill="#111" stroke="#111" stroke-width="0.3">Fast</text>
<path d="M454.9,715.9 C463,725 472,728.5 480,728.3 C489,728 495,724 499.5,720.5" fill="none" stroke="#14b07a" stroke-width="1.6"/>
<path d="M504.00,717.10 L500.22,723.90 L496.32,718.33 Z" fill="#14b07a"/>
<text x="495.6" y="707.3" font-size="14" textLength="15.2" lengthAdjust="spacingAndGlyphs" fill="#111" stroke="#111" stroke-width="0.3">H<tspan font-size="9" dy="-5.5">+</tspan></text>
<circle cx="509.8" cy="712.4" r="3.8" fill="#7f7f7f"/>
<path d="M513.3,706.6 C519,701 525,697.4 531,697.3 C538,697.4 542,700.5 545.5,703.5" fill="none" stroke="#14b07a" stroke-width="1.6"/>
<path d="M549.70,707.20 L542.15,705.31 L546.52,700.10 Z" fill="#14b07a"/>
<text x="525.5" y="695.6" font-size="16" textLength="13" lengthAdjust="spacingAndGlyphs" fill="#111" stroke="#111" stroke-width="0.3">e<tspan font-size="10" dy="-6">-</tspan></text>
<text x="516.1" y="718.3" font-size="14" textLength="28.2" lengthAdjust="spacingAndGlyphs" fill="#111" stroke="#111" stroke-width="0.3">Fast</text>
<line x1="562.10" y1="657.14" x2="575.00" y2="644.74" stroke="#333" stroke-width="1"/>
<line x1="560.30" y1="655.26" x2="573.20" y2="642.86" stroke="#333" stroke-width="1"/>
<circle cx="574.1" cy="643.8" r="6.3" fill="#ff0000"/>
<circle cx="561.2" cy="656.2" r="6.3" fill="#0000f0"/>
<line x1="561" y1="668.7" x2="561" y2="688" stroke="#14b07a" stroke-width="1.6"/>
<path d="M561,694.7 L557.4,687.2 L564.6,687.2 Z" fill="#14b07a"/>
<text x="0" y="0" font-size="14" fill="#111" stroke="#111" stroke-width="0.3" transform="translate(564.6,684.4) rotate(-9.2)" textLength="50" lengthAdjust="spacingAndGlyphs">Stronger</text>
<line x1="555.3" y1="715" x2="555.3" y2="730" stroke="#111" stroke-width="1.2"/>
<line x1="556.21" y1="714.83" x2="568.91" y2="702.43" stroke="#333" stroke-width="1"/>
<line x1="554.39" y1="712.97" x2="567.09" y2="700.57" stroke="#333" stroke-width="1"/>
<circle cx="568" cy="701.5" r="6.3" fill="#ff0000"/>
<circle cx="555.3" cy="713.9" r="6.3" fill="#0000f0"/>
<circle cx="629.1" cy="679.3" r="3.8" fill="#7f7f7f"/>
<circle cx="614.2" cy="686.1" r="3.8" fill="#7f7f7f"/>
<circle cx="628.4" cy="697" r="3.8" fill="#7f7f7f"/>
<circle cx="623.9" cy="687.9" r="5.5" fill="#0000f0"/>
<path d="M576.4,715 C590,717 600,713 609,704.5" fill="none" stroke="#14b07a" stroke-width="1.6"/>
<path d="M613.70,700.30 L611.15,707.65 L606.35,702.85 Z" fill="#14b07a"/>
<text x="0" y="0" font-size="14" fill="#111" stroke="#111" stroke-width="0.3" transform="translate(585,732.9) rotate(-17.6)" textLength="84.5" lengthAdjust="spacingAndGlyphs">High efficiency</text>
<!-- molecules a/b -->
<defs>
<radialGradient id="gH" cx="0.38" cy="0.35" r="0.7"><stop offset="0" stop-color="#ffffff"/><stop offset="0.5" stop-color="#e8e8e8"/><stop offset="1" stop-color="#9a9a9a"/></radialGradient>
<radialGradient id="gO" cx="0.38" cy="0.35" r="0.7"><stop offset="0" stop-color="#ff9090"/><stop offset="0.35" stop-color="#ff1a1a"/><stop offset="1" stop-color="#b00000"/></radialGradient>
<radialGradient id="gFe" cx="0.38" cy="0.35" r="0.7"><stop offset="0" stop-color="#d86060"/><stop offset="0.35" stop-color="#a81818"/><stop offset="1" stop-color="#5e0808"/></radialGradient>
<radialGradient id="gN" cx="0.38" cy="0.35" r="0.7"><stop offset="0" stop-color="#7070ff"/><stop offset="0.35" stop-color="#1010f0"/><stop offset="1" stop-color="#00008c"/></radialGradient>
<radialGradient id="gC" cx="0.38" cy="0.35" r="0.7"><stop offset="0" stop-color="#d8d8d8"/><stop offset="0.4" stop-color="#8e8e8e"/><stop offset="1" stop-color="#4e4e4e"/></radialGradient>
<radialGradient id="gPt" cx="0.38" cy="0.35" r="0.7"><stop offset="0" stop-color="#6fb0d8"/><stop offset="0.35" stop-color="#22709e"/><stop offset="1" stop-color="#124a6c"/></radialGradient>
</defs>
<path d="M50,66.5 L52,66" fill="none" stroke="#e8484c" stroke-width="1" stroke-opacity="0.85"/>
<path d="M60,63.5 L58.5,66 L60.5,70" fill="none" stroke="#e8484c" stroke-width="1" stroke-opacity="0.85"/>
<path d="M82,61 L86.5,64.5" fill="none" stroke="#e8484c" stroke-width="1" stroke-opacity="0.85"/>
<path d="M95,68 L99.5,65.5 L97,63.5" fill="none" stroke="#e8484c" stroke-width="1" stroke-opacity="0.85"/>
<path d="M119.7,63 L119.7,69" fill="none" stroke="#e8484c" stroke-width="1" stroke-opacity="0.85"/>
<line x1="50" y1="119" x2="121" y2="119" stroke="#a8a8b8" stroke-width="3.2" stroke-linecap="round"/>
<circle cx="58.4" cy="115.2" r="4.2" fill="url(#gN)"/>
<line x1="60" y1="115" x2="70" y2="116" stroke="#1414e0" stroke-width="2.2" stroke-linecap="round"/>
<circle cx="54.9" cy="116.8" r="4.8" fill="url(#gC)"/>
<circle cx="66.6" cy="116.8" r="4.8" fill="url(#gC)"/>
<circle cx="86.5" cy="116.8" r="4.8" fill="url(#gC)"/>
<circle cx="96.4" cy="116.8" r="4.8" fill="url(#gC)"/>
<circle cx="115.7" cy="116.8" r="4.8" fill="url(#gC)"/>
<circle cx="76.8" cy="113.5" r="7.6" fill="url(#gFe)"/>
<line x1="87" y1="111" x2="108" y2="112.5" stroke="#1414e0" stroke-width="3" stroke-linecap="round"/>
<circle cx="95.2" cy="110" r="5.8" fill="url(#gN)"/>
<circle cx="54.9" cy="121.4" r="5" fill="url(#gC)"/>
<circle cx="66.6" cy="121.4" r="5" fill="url(#gC)"/>
<circle cx="86.5" cy="121.4" r="5" fill="url(#gC)"/>
<circle cx="96.4" cy="121.4" r="5" fill="url(#gC)"/>
<circle cx="115.7" cy="121.4" r="5" fill="url(#gC)"/>
<circle cx="94.5" cy="96.4" r="5.3" fill="url(#gH)"/>
<line x1="73.1" y1="86" x2="75.8" y2="110" stroke="#e01010" stroke-width="2.2" stroke-linecap="round"/>
<circle cx="73.1" cy="84.6" r="5.8" fill="url(#gO)"/>
<circle cx="63.4" cy="78.4" r="5" fill="url(#gH)"/>
<path d="M156,75.5 L162,74.3" fill="none" stroke="#e8484c" stroke-width="1" stroke-opacity="0.85"/>
<path d="M169,71.5 L167,74.5 L169,77.5" fill="none" stroke="#e8484c" stroke-width="1" stroke-opacity="0.85"/>
<path d="M174,60.5 L179,66.5" fill="none" stroke="#e8484c" stroke-width="1" stroke-opacity="0.85"/>
<path d="M188,64.5 L187.5,69 L190.5,73" fill="none" stroke="#e8484c" stroke-width="1" stroke-opacity="0.85"/>
<path d="M199,73.5 L203,72 L202,75.5" fill="none" stroke="#e8484c" stroke-width="1" stroke-opacity="0.85"/>
<path d="M220.5,71 L220,75 L223,77.5" fill="none" stroke="#e8484c" stroke-width="1" stroke-opacity="0.85"/>
<line x1="156.4" y1="121" x2="224" y2="121" stroke="#a8a8b8" stroke-width="3.2" stroke-linecap="round"/>
<circle cx="164" cy="118" r="4.8" fill="url(#gC)"/>
<circle cx="174" cy="118" r="4.8" fill="url(#gC)"/>
<circle cx="191.5" cy="118" r="4.8" fill="url(#gC)"/>
<circle cx="200.2" cy="118" r="4.8" fill="url(#gC)"/>
<circle cx="218.3" cy="118" r="4.8" fill="url(#gC)"/>
<circle cx="182.7" cy="114.2" r="7.4" fill="url(#gFe)"/>
<line x1="190" y1="113.5" x2="211" y2="114.5" stroke="#1414e0" stroke-width="3" stroke-linecap="round"/>
<circle cx="200.2" cy="112.9" r="5.5" fill="url(#gN)"/>
<circle cx="164" cy="122.5" r="5" fill="url(#gC)"/>
<circle cx="174" cy="122.5" r="5" fill="url(#gC)"/>
<circle cx="191.5" cy="122.5" r="5" fill="url(#gC)"/>
<circle cx="200.2" cy="122.5" r="5" fill="url(#gC)"/>
<circle cx="218.3" cy="122.5" r="5" fill="url(#gC)"/>
<circle cx="198" cy="99.4" r="5.2" fill="url(#gH)"/>
<line x1="179.6" y1="91.5" x2="182" y2="112" stroke="#e01010" stroke-width="2.2" stroke-linecap="round"/>
<circle cx="179.6" cy="90.2" r="5.2" fill="url(#gO)"/>
<circle cx="171.3" cy="84.6" r="5" fill="url(#gH)"/>
<path d="M253,68 L256.5,68 L256.5,72" fill="none" stroke="#e8484c" stroke-width="1" stroke-opacity="0.85"/>
<path d="M288,64 L288,68.5 L292.5,70" fill="none" stroke="#e8484c" stroke-width="1" stroke-opacity="0.85"/>
<path d="M295.5,61.5 L296,65 L301,66" fill="none" stroke="#e8484c" stroke-width="1" stroke-opacity="0.85"/>
<path d="M310.5,64.5 L310,68 L306.5,69.5" fill="none" stroke="#e8484c" stroke-width="1" stroke-opacity="0.85"/>
<path d="M281.5,80.5 L281,84" fill="none" stroke="#e8484c" stroke-width="1" stroke-opacity="0.85"/>
<line x1="253" y1="121.6" x2="312" y2="121.6" stroke="#9a9ab8" stroke-width="2.6" stroke-linecap="round"/>
<circle cx="287.8" cy="116" r="6.6" fill="url(#gFe)"/>
<circle cx="258.4" cy="121.6" r="5.3" fill="url(#gC)"/>
<circle cx="272.5" cy="121.6" r="5.3" fill="url(#gC)"/>
<circle cx="287.6" cy="121.6" r="5.3" fill="url(#gC)"/>
<circle cx="302.8" cy="121.6" r="5.3" fill="url(#gC)"/>
<line x1="286" y1="92" x2="287.5" y2="110" stroke="#e01010" stroke-width="2.2" stroke-linecap="round"/>
<circle cx="274.5" cy="87" r="4.6" fill="url(#gH)"/>
<circle cx="286" cy="90.5" r="4.8" fill="url(#gO)"/>
<circle cx="290" cy="83" r="4.6" fill="url(#gH)"/>
<path d="M380,82 L386,80 L389,78" fill="none" stroke="#e8484c" stroke-width="1" stroke-opacity="0.85"/>
<path d="M386,76 L389,80" fill="none" stroke="#e8484c" stroke-width="1" stroke-opacity="0.85"/>
<path d="M377,94 L384,101" fill="none" stroke="#e8484c" stroke-width="1" stroke-opacity="0.85"/>
<path d="M403,81 L409,77 L412,76" fill="none" stroke="#e8484c" stroke-width="1" stroke-opacity="0.85"/>
<path d="M404,85 L408,83 L410,86" fill="none" stroke="#e8484c" stroke-width="1" stroke-opacity="0.85"/>
<path d="M391,117 L395,121" fill="none" stroke="#e8484c" stroke-width="1" stroke-opacity="0.85"/>
<path d="M446,91 L448,89" fill="none" stroke="#e8484c" stroke-width="1" stroke-opacity="0.85"/>
<path d="M446,119 L448,118" fill="none" stroke="#e8484c" stroke-width="1" stroke-opacity="0.85"/>
<path d="M444,127 L448,127" fill="none" stroke="#e8484c" stroke-width="1" stroke-opacity="0.85"/>
<line x1="387" y1="80" x2="398" y2="104" stroke="#e84848" stroke-width="1" stroke-linecap="round"/>
<line x1="377.2" y1="125.3" x2="397" y2="105.6" stroke="#1f6a98" stroke-width="2.0" stroke-linecap="round"/>
<line x1="397" y1="105.6" x2="406.8" y2="122" stroke="#1f6a98" stroke-width="2.0" stroke-linecap="round"/>
<line x1="397" y1="105.6" x2="422.6" y2="99.7" stroke="#1f6a98" stroke-width="2.0" stroke-linecap="round"/>
<line x1="422.6" y1="99.7" x2="431.8" y2="104.3" stroke="#1f6a98" stroke-width="2.0" stroke-linecap="round"/>
<line x1="422.6" y1="99.7" x2="406.8" y2="122" stroke="#1f6a98" stroke-width="2.0" stroke-linecap="round"/>
<line x1="431.8" y1="104.3" x2="436.4" y2="123.3" stroke="#1f6a98" stroke-width="2.0" stroke-linecap="round"/>
<line x1="422.6" y1="99.7" x2="426" y2="124" stroke="#1f6a98" stroke-width="2.0" stroke-linecap="round"/>
<line x1="406.8" y1="122" x2="436.4" y2="123.3" stroke="#1f6a98" stroke-width="2.0" stroke-linecap="round"/>
<line x1="377.2" y1="125.3" x2="406.8" y2="122" stroke="#1f6a98" stroke-width="2.0" stroke-linecap="round"/>
<line x1="406.8" y1="122" x2="426" y2="124" stroke="#1f6a98" stroke-width="2.0" stroke-linecap="round"/>
<line x1="431.8" y1="104.3" x2="426" y2="124" stroke="#1f6a98" stroke-width="2.0" stroke-linecap="round"/>
<line x1="377.2" y1="125.3" x2="436.4" y2="123.3" stroke="#1f6a98" stroke-width="2.0" stroke-linecap="round"/>
<line x1="419.3" y1="76" x2="421.5" y2="97" stroke="#e01010" stroke-width="2.4" stroke-linecap="round"/>
<line x1="421.8" y1="88" x2="421.8" y2="97" stroke="#1f6a98" stroke-width="2.4" stroke-linecap="round"/>
<line x1="424" y1="80" x2="432" y2="101" stroke="#e84848" stroke-width="1" stroke-linecap="round"/>
<circle cx="377.2" cy="125.3" r="4.2" fill="url(#gPt)"/>
<circle cx="406.8" cy="122" r="5" fill="url(#gPt)"/>
<circle cx="426" cy="124" r="4.5" fill="url(#gPt)"/>
<circle cx="436.4" cy="123.3" r="5" fill="url(#gPt)"/>
<circle cx="397" cy="105.6" r="4.8" fill="url(#gPt)"/>
<circle cx="422.6" cy="99.7" r="5" fill="url(#gPt)"/>
<circle cx="431.8" cy="104.3" r="5.2" fill="url(#gPt)"/>
<circle cx="391" cy="98.4" r="5" fill="url(#gH)"/>
<circle cx="419.3" cy="74" r="5.6" fill="url(#gO)"/>
<circle cx="430.7" cy="71.4" r="5" fill="url(#gH)"/>
<path d="M485,79 L491,77 L494,75" fill="none" stroke="#e8484c" stroke-width="1" stroke-opacity="0.85"/>
<path d="M491,75 L492,80" fill="none" stroke="#e8484c" stroke-width="1" stroke-opacity="0.85"/>
<path d="M482,92 L489,101" fill="none" stroke="#e8484c" stroke-width="1" stroke-opacity="0.85"/>
<path d="M508,80 L514,75 L518,74" fill="none" stroke="#e8484c" stroke-width="1" stroke-opacity="0.85"/>
<path d="M512,84 L516,82 L518,85" fill="none" stroke="#e8484c" stroke-width="1" stroke-opacity="0.85"/>
<path d="M497,115 L500,120" fill="none" stroke="#e8484c" stroke-width="1" stroke-opacity="0.85"/>
<path d="M553,67 L551,70 L553,73" fill="none" stroke="#e8484c" stroke-width="1" stroke-opacity="0.85"/>
<path d="M553,82 L552,86 L550,90" fill="none" stroke="#e8484c" stroke-width="1" stroke-opacity="0.85"/>
<path d="M552,115 L555,117" fill="none" stroke="#e8484c" stroke-width="1" stroke-opacity="0.85"/>
<path d="M552,124 L555,124" fill="none" stroke="#e8484c" stroke-width="1" stroke-opacity="0.85"/>
<line x1="491" y1="80" x2="502" y2="104" stroke="#e84848" stroke-width="1" stroke-linecap="round"/>
<line x1="480" y1="124.5" x2="501.5" y2="105" stroke="#1f6a98" stroke-width="2.0" stroke-linecap="round"/>
<line x1="501.5" y1="105" x2="511.4" y2="120" stroke="#1f6a98" stroke-width="2.0" stroke-linecap="round"/>
<line x1="501.5" y1="105" x2="526.5" y2="99" stroke="#1f6a98" stroke-width="2.0" stroke-linecap="round"/>
<line x1="526.5" y1="99" x2="537" y2="103" stroke="#1f6a98" stroke-width="2.0" stroke-linecap="round"/>
<line x1="526.5" y1="99" x2="511.4" y2="120" stroke="#1f6a98" stroke-width="2.0" stroke-linecap="round"/>
<line x1="537" y1="103" x2="544" y2="123.5" stroke="#1f6a98" stroke-width="2.0" stroke-linecap="round"/>
<line x1="526.5" y1="99" x2="530" y2="124" stroke="#1f6a98" stroke-width="2.0" stroke-linecap="round"/>
<line x1="511.4" y1="120" x2="544" y2="123.5" stroke="#1f6a98" stroke-width="2.0" stroke-linecap="round"/>
<line x1="480" y1="124.5" x2="511.4" y2="120" stroke="#1f6a98" stroke-width="2.0" stroke-linecap="round"/>
<line x1="511.4" y1="120" x2="530" y2="124" stroke="#1f6a98" stroke-width="2.0" stroke-linecap="round"/>
<line x1="537" y1="103" x2="530" y2="124" stroke="#1f6a98" stroke-width="2.0" stroke-linecap="round"/>
<line x1="480" y1="124.5" x2="544" y2="123.5" stroke="#1f6a98" stroke-width="2.0" stroke-linecap="round"/>
<line x1="523.9" y1="73" x2="525.5" y2="96" stroke="#e01010" stroke-width="2.4" stroke-linecap="round"/>
<line x1="527" y1="78" x2="534" y2="100" stroke="#e84848" stroke-width="1" stroke-linecap="round"/>
<circle cx="480" cy="124.5" r="3.8" fill="url(#gPt)"/>
<circle cx="511.4" cy="120" r="4.5" fill="url(#gPt)"/>
<circle cx="530" cy="124" r="4" fill="url(#gPt)"/>
<circle cx="544" cy="123.5" r="4.2" fill="url(#gPt)"/>
<circle cx="501.5" cy="105" r="4.8" fill="url(#gPt)"/>
<circle cx="526.5" cy="99" r="5" fill="url(#gPt)"/>
<circle cx="537" cy="103" r="5.2" fill="url(#gPt)"/>
<circle cx="506.1" cy="91.8" r="5" fill="url(#gH)"/>
<circle cx="523.9" cy="71.4" r="5.6" fill="url(#gO)"/>
<circle cx="535" cy="68.8" r="5" fill="url(#gH)"/>
<path d="M595,76 L598,74 L600,77" fill="none" stroke="#e8484c" stroke-width="1" stroke-opacity="0.85"/>
<path d="M602,80 L600,85 L605,86" fill="none" stroke="#e8484c" stroke-width="1" stroke-opacity="0.85"/>
<path d="M615,81 L620,78 L624,80" fill="none" stroke="#e8484c" stroke-width="1" stroke-opacity="0.85"/>
<path d="M597,95 L601,92 L603,95" fill="none" stroke="#e8484c" stroke-width="1" stroke-opacity="0.85"/>
<path d="M612,60 L616,58" fill="none" stroke="#e8484c" stroke-width="1" stroke-opacity="0.85"/>
<path d="M634,78 L638,82 L637,86" fill="none" stroke="#e8484c" stroke-width="1" stroke-opacity="0.85"/>
<path d="M642,91 L641,86 L645,85" fill="none" stroke="#e8484c" stroke-width="1" stroke-opacity="0.85"/>
<path d="M646,74 L646,76" fill="none" stroke="#e8484c" stroke-width="1" stroke-opacity="0.85"/>
<path d="M605,117 L604,122" fill="none" stroke="#e8484c" stroke-width="1" stroke-opacity="0.85"/>
<path d="M643,111 L646,110 L650,112" fill="none" stroke="#e8484c" stroke-width="1" stroke-opacity="0.85"/>
<line x1="611" y1="82" x2="613" y2="101" stroke="#e84848" stroke-width="1" stroke-linecap="round"/>
<line x1="640.4" y1="92.7" x2="632.6" y2="101.9" stroke="#1f6a98" stroke-width="2.0" stroke-linecap="round"/>
<line x1="640.4" y1="92.7" x2="647" y2="118.3" stroke="#1f6a98" stroke-width="2.0" stroke-linecap="round"/>
<line x1="632.6" y1="101.9" x2="612.2" y2="103.2" stroke="#1f6a98" stroke-width="2.0" stroke-linecap="round"/>
<line x1="632.6" y1="101.9" x2="622.7" y2="121.6" stroke="#1f6a98" stroke-width="2.0" stroke-linecap="round"/>
<line x1="612.2" y1="103.2" x2="592.5" y2="118.3" stroke="#1f6a98" stroke-width="2.0" stroke-linecap="round"/>
<line x1="612.2" y1="103.2" x2="622.7" y2="121.6" stroke="#1f6a98" stroke-width="2.0" stroke-linecap="round"/>
<line x1="592.5" y1="118.3" x2="622.7" y2="121.6" stroke="#1f6a98" stroke-width="2.0" stroke-linecap="round"/>
<line x1="622.7" y1="121.6" x2="647" y2="118.3" stroke="#1f6a98" stroke-width="2.0" stroke-linecap="round"/>
<line x1="632.6" y1="101.9" x2="647" y2="118.3" stroke="#1f6a98" stroke-width="2.0" stroke-linecap="round"/>
<line x1="592.5" y1="118.3" x2="647" y2="118.3" stroke="#1f6a98" stroke-width="2.0" stroke-linecap="round"/>
<line x1="640.4" y1="92.7" x2="612.2" y2="103.2" stroke="#1f6a98" stroke-width="2.0" stroke-linecap="round"/>
<line x1="650" y1="117.5" x2="656" y2="115.5" stroke="#1f6a98" stroke-width="1.6" stroke-linecap="round"/>
<line x1="637.2" y1="71" x2="640" y2="90" stroke="#e01010" stroke-width="2.4" stroke-linecap="round"/>
<circle cx="592.5" cy="118.3" r="4.5" fill="url(#gPt)"/>
<circle cx="622.7" cy="121.6" r="4.2" fill="url(#gPt)"/>
<circle cx="647" cy="118.3" r="4.5" fill="url(#gPt)"/>
<circle cx="612.2" cy="103.2" r="4.6" fill="url(#gPt)"/>
<circle cx="632.6" cy="101.9" r="4.5" fill="url(#gPt)"/>
<circle cx="640.4" cy="92.7" r="4.6" fill="url(#gPt)"/>
<circle cx="628.6" cy="65.1" r="4.6" fill="url(#gH)"/>
<circle cx="645.7" cy="63.1" r="4.6" fill="url(#gH)"/>
<circle cx="637.2" cy="69.7" r="5" fill="url(#gO)"/>
</svg>
</body></html>
